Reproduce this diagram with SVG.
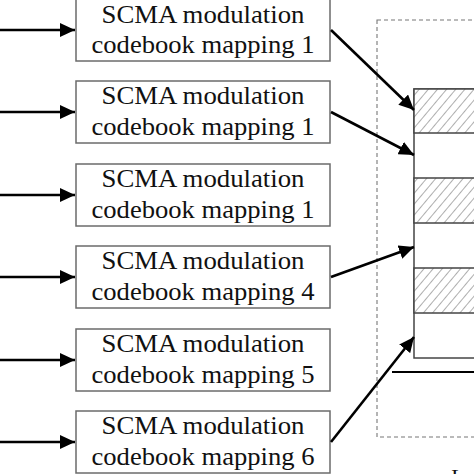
<svg xmlns="http://www.w3.org/2000/svg" width="474" height="474" viewBox="0 0 474 474">
<style>
.box{fill:#fff;stroke:#6b6b6b;stroke-width:1.5}
.t{font-family:"Liberation Serif","Times New Roman",serif;font-size:25px;fill:#111;text-anchor:middle}
.arr{stroke:#000;stroke-width:2.6;fill:none;marker-end:url(#ah)}
.hatch{fill:url(#hp);stroke:#444;stroke-width:1.5}
</style>
<defs>
<marker id="ah" markerUnits="userSpaceOnUse" markerWidth="16" markerHeight="14" refX="15" refY="7" orient="auto">
<path d="M0,0 L15,7 L0,14 z" fill="#000"/>
</marker>
<pattern id="hp" patternUnits="userSpaceOnUse" width="7" height="7" patternTransform="rotate(40)">
<rect width="7" height="7" fill="#fff"/>
<line x1="0" y1="0" x2="0" y2="7" stroke="#777" stroke-width="1.2"/>
</pattern>
</defs>
<g id="resource">
<rect x="377" y="20" width="110" height="417" fill="none" stroke="#777" stroke-width="1.1" stroke-dasharray="4,3"/>
<rect x="414" y="89" width="80" height="269" fill="#fff" stroke="#444" stroke-width="1.5"/>
<rect class="hatch" x="414" y="89" width="80" height="44"/>
<rect class="hatch" x="414" y="178" width="80" height="45"/>
<rect class="hatch" x="414" y="268" width="80" height="45"/>
<line x1="392" y1="372" x2="480" y2="372" stroke="#000" stroke-width="2.2"/>
<text x="458" y="484" style="font-family:'Liberation Serif',serif;font-size:22px;fill:#111" text-anchor="middle">L</text>
</g>
<g id="node1"><rect class="box" x="76" y="-1" width="254" height="62"/><text class="t" x="203" y="22.5" textLength="203" lengthAdjust="spacingAndGlyphs">SCMA modulation</text><text class="t" x="203" y="53" textLength="223" lengthAdjust="spacingAndGlyphs">codebook mapping 1</text></g>
<g id="node2"><rect class="box" x="76" y="81" width="254" height="62"/><text class="t" x="203" y="104" textLength="203" lengthAdjust="spacingAndGlyphs">SCMA modulation</text><text class="t" x="203" y="135" textLength="223" lengthAdjust="spacingAndGlyphs">codebook mapping 1</text></g>
<g id="node3"><rect class="box" x="76" y="164" width="254" height="62"/><text class="t" x="203" y="187" textLength="203" lengthAdjust="spacingAndGlyphs">SCMA modulation</text><text class="t" x="203" y="218" textLength="223" lengthAdjust="spacingAndGlyphs">codebook mapping 1</text></g>
<g id="node4"><rect class="box" x="76" y="246" width="254" height="62"/><text class="t" x="203" y="269" textLength="203" lengthAdjust="spacingAndGlyphs">SCMA modulation</text><text class="t" x="203" y="300" textLength="223" lengthAdjust="spacingAndGlyphs">codebook mapping 4</text></g>
<g id="node5"><rect class="box" x="76" y="329" width="254" height="62"/><text class="t" x="203" y="352" textLength="203" lengthAdjust="spacingAndGlyphs">SCMA modulation</text><text class="t" x="203" y="383" textLength="223" lengthAdjust="spacingAndGlyphs">codebook mapping 5</text></g>
<g id="node6"><rect class="box" x="76" y="411" width="254" height="62"/><text class="t" x="203" y="434" textLength="203" lengthAdjust="spacingAndGlyphs">SCMA modulation</text><text class="t" x="203" y="465" textLength="223" lengthAdjust="spacingAndGlyphs">codebook mapping 6</text></g>
<g id="connectors">
<line class="arr" x1="0" y1="30" x2="75" y2="30"/>
<line class="arr" x1="0" y1="112" x2="75" y2="112"/>
<line class="arr" x1="0" y1="195" x2="75" y2="195"/>
<line class="arr" x1="0" y1="277" x2="75" y2="277"/>
<line class="arr" x1="0" y1="360" x2="75" y2="360"/>
<line class="arr" x1="0" y1="442" x2="75" y2="442"/>
<line class="arr" x1="331" y1="30" x2="414" y2="110"/>
<line class="arr" x1="331" y1="112" x2="414" y2="155"/>
<line class="arr" x1="331" y1="277" x2="414" y2="247"/>
<line class="arr" x1="331" y1="442" x2="414" y2="337"/>
</g>
</svg>
